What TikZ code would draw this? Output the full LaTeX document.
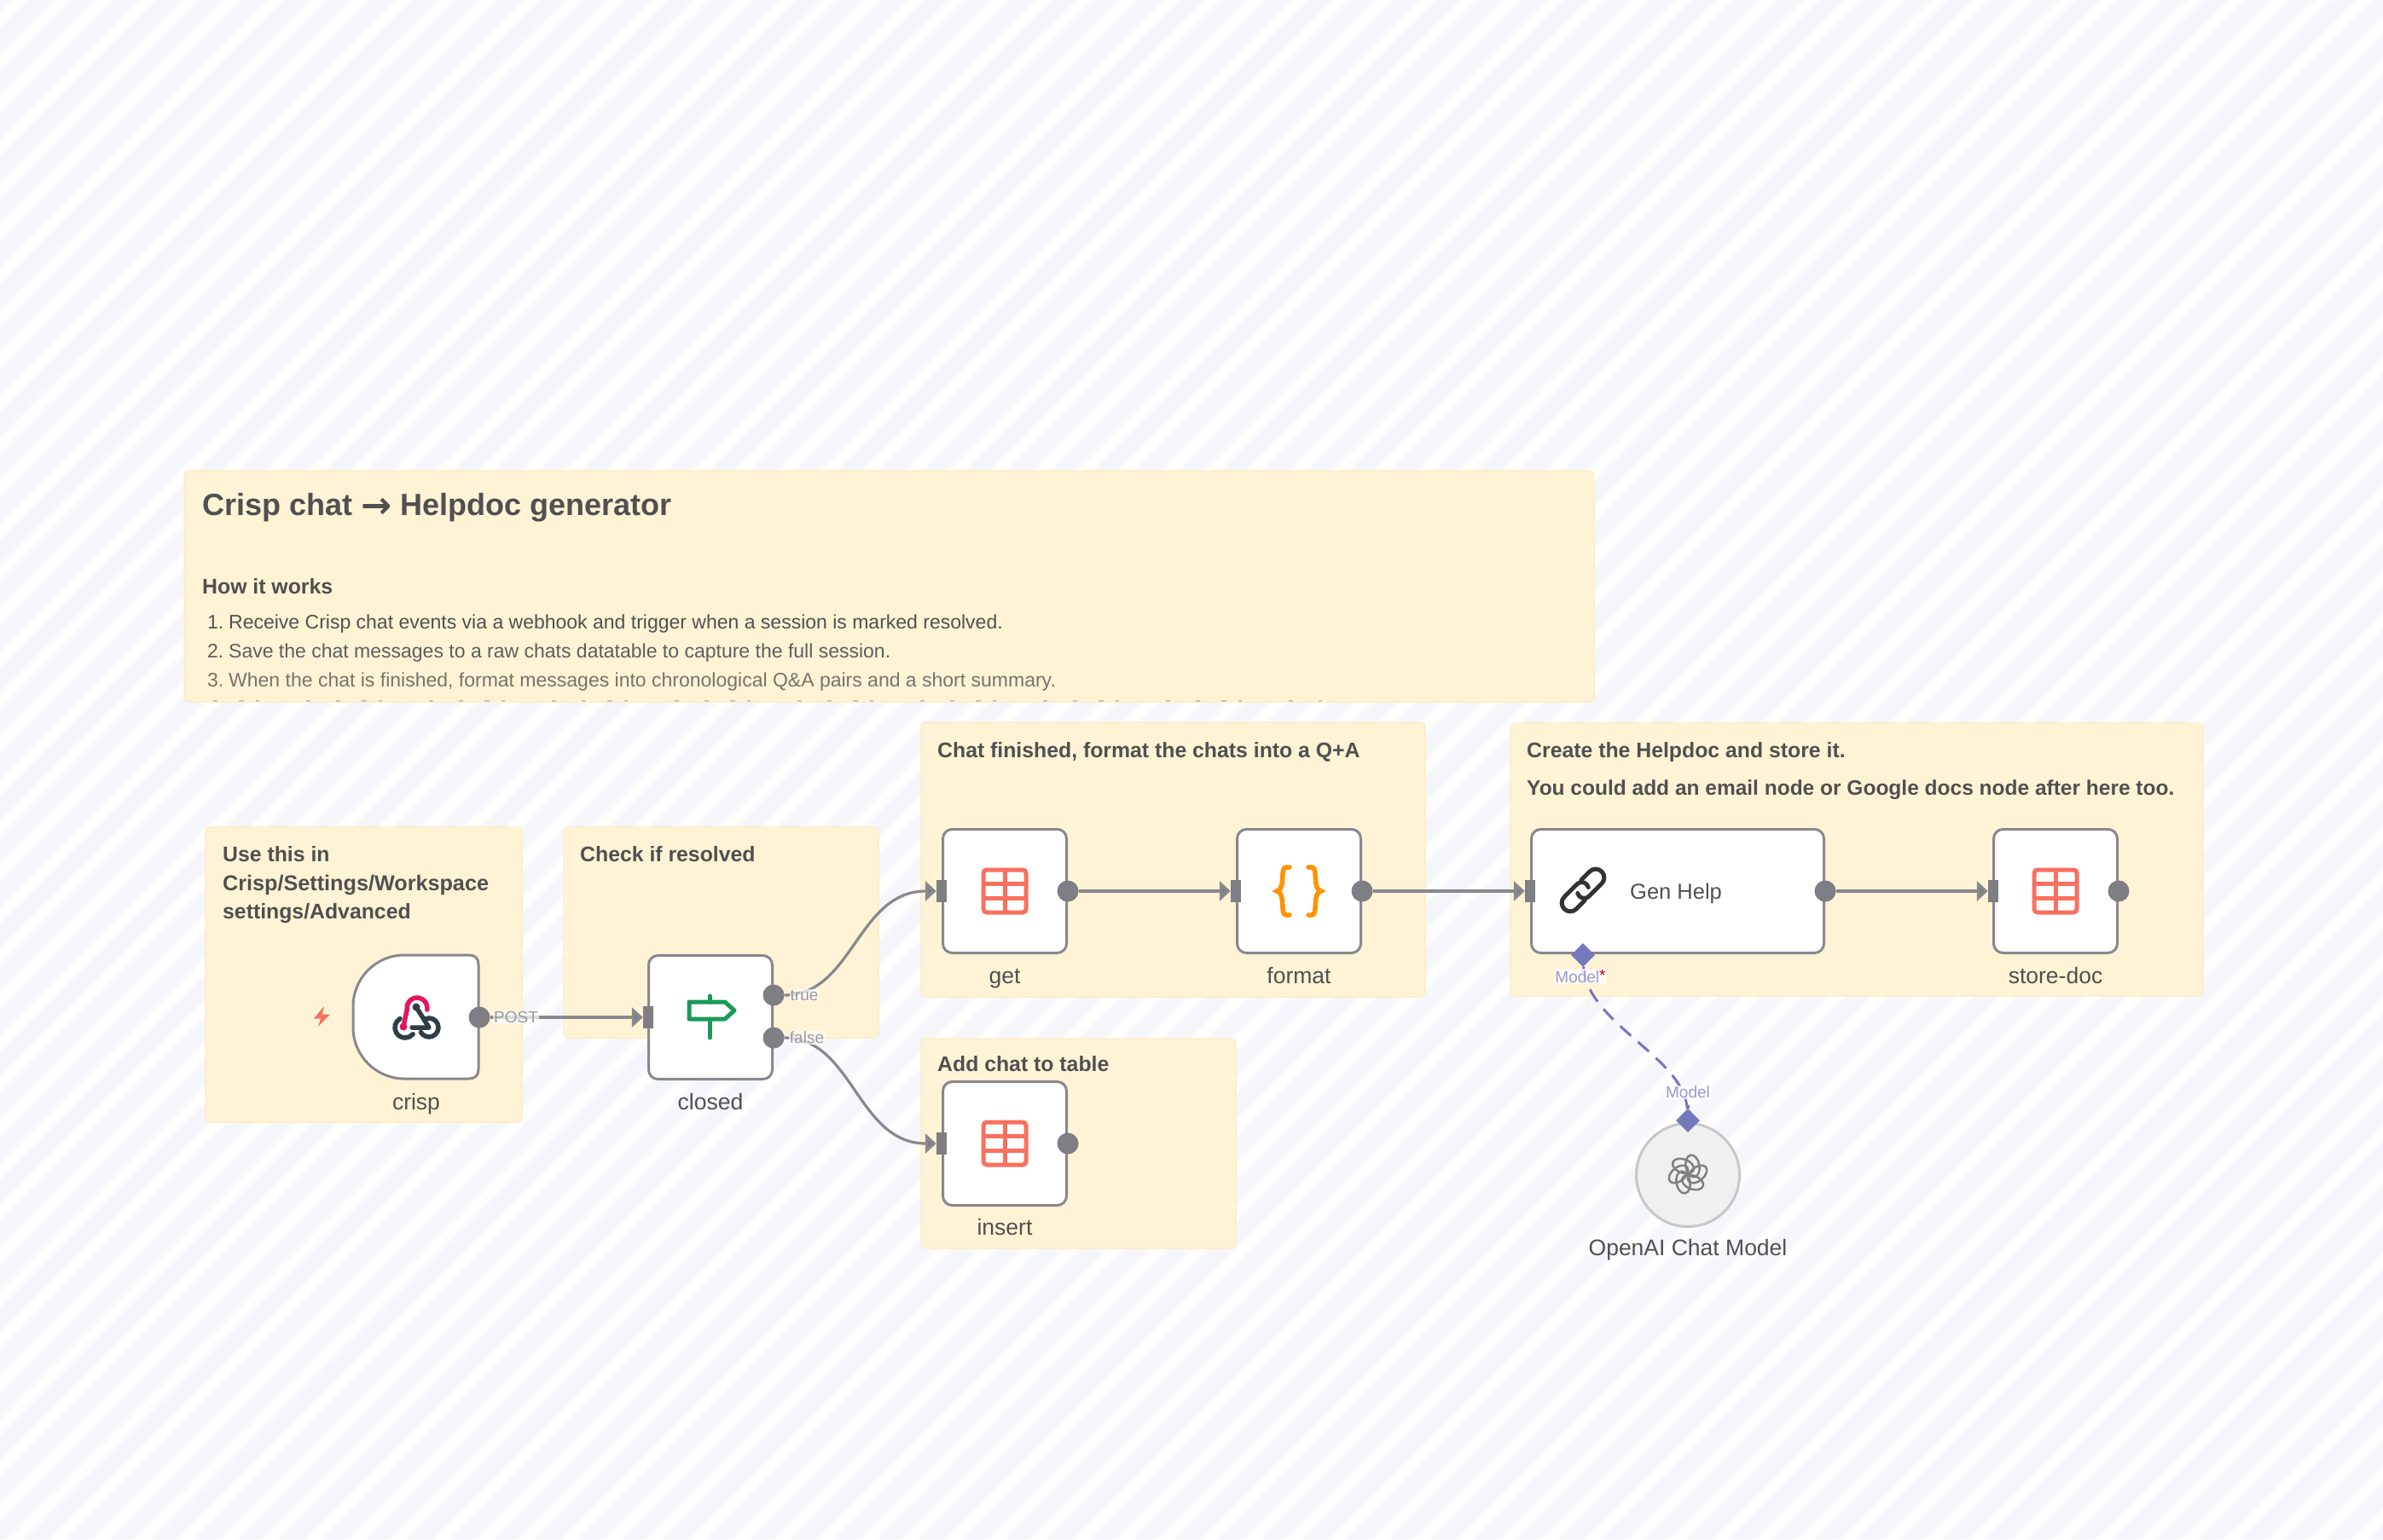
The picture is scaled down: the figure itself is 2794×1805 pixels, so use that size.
\documentclass[tikz,border=0pt]{standalone}
\usepackage{fontspec}
\setmainfont{Liberation Sans}
\newfontfamily\arrowfont{DejaVu Sans}
\usetikzlibrary{arrows.meta,calc,shapes.geometric}
\definecolor{stickfill}{HTML}{FFF3D5}
\definecolor{stickedge}{HTML}{FDEEC8}
\definecolor{inktext}{HTML}{505050}
\definecolor{edgegray}{HTML}{88888E}
\definecolor{portgray}{HTML}{7E7E84}
\definecolor{tablered}{HTML}{F9705F}
\definecolor{modelblue}{HTML}{7478BC}
\definecolor{stripe}{HTML}{F5F6FB}
\definecolor{stripesoft}{HTML}{FAFAFD}
\definecolor{hookpink}{HTML}{E2175D}
\definecolor{hookdark}{HTML}{2F3E46}
\definecolor{signgreen}{HTML}{1A9A58}
\tikzset{
  x=1pt,y=-1pt,
  sticky/.style={draw=stickedge,fill=stickfill,line width=1.5pt,rounded corners=5pt},
  stickytext/.style={anchor=base west,inner sep=0pt,text=inktext,font=\fontsize{24.8}{25}\selectfont\bfseries},
  bodytext/.style={anchor=base west,inner sep=0pt,font=\fontsize{23}{23}\selectfont},
  card/.style={draw=edgegray,fill=white,line width=3pt,rounded corners=11pt,inner sep=0pt},
  nodename/.style={anchor=base,inner sep=0pt,text=inktext,font=\fontsize{26.5}{27}\selectfont},
  portout/.style={circle,fill=portgray,inner sep=0pt,minimum size=25pt},
  portin/.style={rectangle,fill=portgray,inner sep=0pt,minimum width=12pt,minimum height=26pt},
  flow/.style={draw=edgegray,line width=3.2pt,-{Triangle[length=13pt,width=23pt,fill=portgray]}},
  wirelabel/.style={inner sep=1pt,fill=white,fill opacity=.7,text opacity=1,text=edgegray!85!white,font=\fontsize{19}{19}\selectfont},
  modellabel/.style={inner sep=1pt,text=modelblue!75!white,fill=white,fill opacity=.75,text opacity=1,font=\fontsize{19}{19}\selectfont},
  modeldiamond/.style={diamond,fill=modelblue,inner sep=0pt,minimum size=28pt,aspect=1},
  tableicon/.style={draw=tablered,line width=5pt,rounded corners=4pt},
}
\newcommand{\tableglyph}[1]{%
  \draw[tableicon] ($(#1)+(-25,-25)$) rectangle ($(#1)+(25,25)$);
  \draw[draw=tablered,line width=5pt] ($(#1)+(0,-25)$) -- ($(#1)+(0,25)$)
    ($(#1)+(-25,-8.5)$) -- ($(#1)+(25,-8.5)$) ($(#1)+(-25,8.5)$) -- ($(#1)+(25,8.5)$);}
\begin{document}
\begin{tikzpicture}
\useasboundingbox (0,0) rectangle (2794,1805);
% background
\fill[white] (0,0) rectangle (2794,1805);
\begin{scope}
\clip (0,0) rectangle (2794,1805);
\foreach \k in {0,...,95}{
  \pgfmathsetmacro{\xa}{\k*50-15}
  \fill[stripesoft] (\xa-5,0) -- (\xa+30,0) -- (\xa+30-1805,1805) -- (\xa-5-1805,1805) -- cycle;
  \fill[stripe] (\xa,0) -- (\xa+25,0) -- (\xa+25-1805,1805) -- (\xa-1805,1805) -- cycle;
}
\end{scope}
% sticky notes
\draw[sticky] (216,552) rectangle (1869,823);
\draw[sticky] (241,970) rectangle (612,1316);
\draw[sticky] (661,970) rectangle (1030,1217);
\draw[sticky] (1080,847) rectangle (1671,1169);
\draw[sticky] (1080,1218) rectangle (1449,1464);
\draw[sticky] (1771,848) rectangle (2583,1168);
% header note text
\node[stickytext,font=\fontsize{36}{37}\selectfont\bfseries] (title) at (237,604) {Crisp chat {\arrowfont\bfseries\fontsize{43}{43}\selectfont\raisebox{-3pt}{→}} Helpdoc generator};
\node[stickytext] (howit) at (237,696.5) {How it works};
\node[bodytext,text=inktext] (numa) at (243,737) {1.};
\node[bodytext,text=inktext] (linea) at (268,737) {Receive Crisp chat events via a webhook and trigger when a session is marked resolved.};
\node[bodytext,text=inktext!92!white] (numb) at (243,771) {2.};
\node[bodytext,text=inktext!92!white] (lineb) at (268,771) {Save the chat messages to a raw chats datatable to capture the full session.};
\node[bodytext,text=inktext!78!stickfill] (numc) at (243,805) {3.};
\node[bodytext,text=inktext!78!stickfill] (linec) at (268,805) {When the chat is finished, format messages into chronological Q\&A pairs and a short summary.};
\draw[inktext!30!stickfill,line width=1.5pt,dash pattern=on 5pt off 25pt on 6pt off 14pt on 4pt off 55pt on 5pt off 30pt] (250,822) -- (1550,822);
% note captions
\node[stickytext] (capa) at (261,1010) {Use this in};
\node[stickytext,font=\fontsize{25.2}{25}\selectfont\bfseries] (capb) at (261,1044) {Crisp/Settings/Workspace};
\node[stickytext] (capc) at (261,1077) {settings/Advanced};
\node[stickytext] (capd) at (680,1010) {Check if resolved};
\node[stickytext] (cape) at (1099,888) {Chat finished, format the chats into a Q+A};
\node[stickytext] (capf) at (1099,1256) {Add chat to table};
\node[stickytext] (capg) at (1790,888) {Create the Helpdoc and store it.};
\node[stickytext,font=\fontsize{24.5}{25}\selectfont\bfseries] (caph) at (1790,932) {You could add an email node or Google docs node after here too.};
% cards
\draw[card,sharp corners] (474,1120) -- (550,1120) .. controls (557,1120) and (561,1124) .. (561,1131) -- (561,1254) .. controls (561,1261) and (557,1265) .. (550,1265) -- (474,1265) .. controls (441,1265) and (414,1238) .. (414,1205) -- (414,1180) .. controls (414,1147) and (441,1120) .. (474,1120) -- cycle;
\node[minimum width=147pt,minimum height=145pt,inner sep=0pt] (crisp) at (488,1193) {};
\node[card,minimum width=145pt,minimum height=145pt] (closed) at (833,1193) {};
\node[card,minimum width=145pt,minimum height=145pt] (get) at (1178,1045) {};
\node[card,minimum width=145pt,minimum height=145pt] (format) at (1523,1045) {};
\node[card,minimum width=145pt,minimum height=145pt] (insert) at (1178,1341) {};
\node[card,minimum width=343pt,minimum height=145pt] (genhelp) at (1967,1045) {};
\node[card,minimum width=145pt,minimum height=145pt] (storedoc) at (2410,1045) {};
\node[circle,draw=black!22,fill=black!6,line width=3pt,minimum size=121pt,inner sep=0pt] (openai) at (1979,1378) {};
% names
\node[nodename] (lblcrisp) at (488,1301) {crisp};
\node[nodename] (lblclosed) at (833,1301) {closed};
\node[nodename] (lblget) at (1178,1153) {get};
\node[nodename] (lblformat) at (1523,1153) {format};
\node[nodename] (lblinsert) at (1178,1448) {insert};
\node[nodename] (lblstore) at (2410,1153) {store-doc};
\node[nodename,anchor=base west,font=\fontsize{25.5}{26}\selectfont] (lblgen) at (1911,1054) {Gen Help};
\node[nodename] (lblopenai) at (1979,1472) {OpenAI Chat Model};
% ports
\node[portout] (crispout) at (562,1193) {};
\node[portin] (closedin) at (760,1193) {};
\node[portout] (truep) at (907,1167) {};
\node[portout] (falsep) at (907,1217) {};
\node[portin] (getin) at (1104,1045) {};
\node[portout] (getout) at (1252,1045) {};
\node[portin] (formatin) at (1449,1045) {};
\node[portout] (formatout) at (1597,1045) {};
\node[portin] (insertin) at (1104,1341) {};
\node[portout] (insertout) at (1252,1341) {};
\node[portin] (genin) at (1794,1045) {};
\node[portout] (genout) at (2140,1045) {};
\node[portin] (storein) at (2337,1045) {};
\node[portout] (storeout) at (2484,1045) {};
\node[modeldiamond] (genmodel) at (1856,1120) {};
\node[modeldiamond] (openaitop) at (1979,1314) {};
% connectors
\draw[flow] (crispout) -- (closedin);
\draw[flow] (truep) .. controls (1000,1167) and (1005,1045) .. (getin);
\draw[flow] (falsep) .. controls (1000,1217) and (1005,1341) .. (insertin);
\draw[flow] (getout) -- (formatin);
\draw[flow] (formatout) -- (genin);
\draw[flow] (genout) -- (storein);
\draw[modelblue,line width=3pt,dash pattern=on 17pt off 11pt] (genmodel) .. controls (1860,1200) and (1975,1240) .. (openaitop);
\draw[modelblue,line width=3pt] (genmodel.south) -- +(0,6);
\draw[modelblue,line width=3pt] (openaitop.north) -- +(0,-4);
% port labels
\node[wirelabel] (lblpost) at (605,1193) {POST};
\node[wirelabel] (lbltrue) at (943,1167) {true};
\node[wirelabel] (lblfalse) at (946,1217) {false};
\node[modellabel] (lblmodela) at (1853,1145) {Model{\color{red!75!black}\raisebox{2pt}{*}}};
\node[modellabel] (lblmodelb) at (1979,1281) {Model};
% bolt
\fill[tablered] (380,1180) -- (368,1194.5) -- (376,1194.5) -- (373,1204) -- (387,1189.5) -- (378,1189.5) -- cycle;
% webhook icon
\draw[line width=5.5pt,draw=hookdark,line cap=round,line join=round] (488,1181) -- (503,1205) -- (483,1205);
\draw[line width=5.5pt,draw=hookdark,line cap=round] (475,1205) ++(120:12pt) arc[start angle=120,end angle=320,radius=12pt];
\draw[line width=5.5pt,draw=hookdark,line cap=round] (503,1205) ++(110:11pt) arc[start angle=110,end angle=-150,radius=11pt];
\draw[line width=5.5pt,draw=hookpink,line cap=round,line join=round] (489,1182) ++(-10:12pt) arc[start angle=-10,end angle=190,radius=12pt] -- (473,1204);
\fill[hookdark] (488,1181) circle[radius=4.5pt];
\fill[hookpink] (473,1204) circle[radius=4.5pt];
% signpost
\draw[signgreen,line width=5pt,line join=round] (808,1175) -- (850,1175) -- (861,1185) -- (850,1195) -- (808,1195) -- cycle;
\draw[signgreen,line width=5pt,line cap=round] (832,1168) -- (832,1175) (832,1195) -- (832,1217);
% tables
\tableglyph{get}
\tableglyph{insert}
\tableglyph{storedoc}
% braces
\begin{scope}[shift={(1523,1045)},draw=orange!85!yellow,line width=5.5pt,line cap=round]
\draw (-11,-28) -- (-15,-28) .. controls (-23,-28) and (-15,-2) .. (-26,0) .. controls (-15,2) and (-23,28) .. (-15,28) -- (-11,28);
\draw (11,-28) -- (15,-28) .. controls (23,-28) and (15,-2) .. (26,0) .. controls (15,2) and (23,28) .. (15,28) -- (11,28);
\end{scope}
% link icon
\begin{scope}[shift={(1856,1044)},rotate=45,draw=black!80,line width=5pt,line cap=round]
\draw (-7,10) -- (-21,10) arc[start angle=270,end angle=90,radius=10pt] -- (0,-10) arc[start angle=90,end angle=-30,radius=8pt];
\draw (7,-10) -- (21,-10) arc[start angle=90,end angle=-90,radius=10pt] -- (0,10) arc[start angle=270,end angle=150,radius=8pt];
\end{scope}
% openai icon
\begin{scope}[shift={(1979,1377)}]
\foreach \a in {0,60,...,300}{
  \begin{scope}[rotate=\a]
  \draw[black!50,line width=2.5pt] (11,0) ellipse[x radius=13pt,y radius=8pt,rotate=40];
  \end{scope}
}
\end{scope}
\end{tikzpicture}
\end{document}
